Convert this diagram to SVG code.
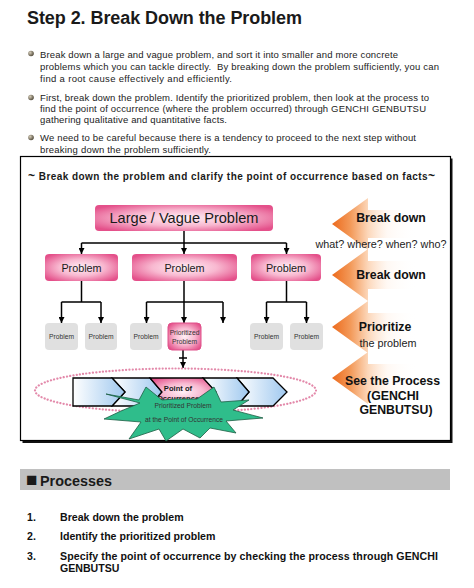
<svg xmlns="http://www.w3.org/2000/svg" xmlns:xlink="http://www.w3.org/1999/xlink" width="474" height="588" viewBox="0 0 474 588">
<style>
text{font-family:"Liberation Sans",Arial,sans-serif;fill:#1a1a1a}
.b{font-weight:bold}
.para{font-size:9.5px;fill:#222}
.pb{fill:url(#pinkG)}
.gb{fill:#e0e0e0}
.lbl{font-size:10.8px;text-anchor:middle}
.sm{font-size:6.7px;text-anchor:middle;fill:#333}
.cn{stroke:#000;stroke-width:1.5;fill:none}
.ca{stroke:#000;stroke-width:1.5;fill:none;marker-end:url(#ah)}
.rt{font-size:12.3px;font-weight:bold;text-anchor:middle;fill:#111}
.rs{font-size:10.8px;text-anchor:middle;fill:#222}
.chev{fill:url(#blueG);stroke:#000;stroke-width:1.3;stroke-linejoin:miter}
.li{font-size:10.6px;font-weight:bold;fill:#111}
</style>
<defs>
<radialGradient id="pinkG" cx="0.5" cy="0.5" r="0.62">
<stop offset="0" stop-color="#fff0f6"/>
<stop offset="0.5" stop-color="#f8b8d0"/>
<stop offset="1" stop-color="#e4508a"/>
</radialGradient>
<linearGradient id="blueG" x1="0" y1="0" x2="1" y2="0">
<stop offset="0" stop-color="#ffffff"/>
<stop offset="1" stop-color="#9fc8ef"/>
</linearGradient>
<linearGradient id="oG" x1="0" y1="0" x2="1" y2="0">
<stop offset="0" stop-color="#ec6a1c"/>
<stop offset="0.22" stop-color="#f39a5a"/>
<stop offset="0.42" stop-color="#fcd6b8"/>
<stop offset="0.65" stop-color="#fff4ec" stop-opacity="0.6"/>
<stop offset="1" stop-color="#ffffff" stop-opacity="0"/>
</linearGradient>
<radialGradient id="ballG" cx="0.35" cy="0.35" r="0.7">
<stop offset="0" stop-color="#d8d0bc"/>
<stop offset="1" stop-color="#4e4636"/>
</radialGradient>
<marker id="ah" viewBox="0 0 10 10" refX="10" refY="5" markerWidth="6" markerHeight="6" markerUnits="userSpaceOnUse" orient="auto">
<path d="M0,0 L10,5 L0,10 Z" fill="#000"/>
</marker>
<path id="oarrow" d="M0,0 L36,-26 L36,-14 L85,-14 L85,14 L36,14 L36,26 Z"/>
</defs>

<rect width="474" height="588" fill="#fff"/>

<g id="title">
<text x="27" y="24" class="b" style="font-size:18px" textLength="275">Step 2. Break Down the Problem</text>
</g>

<g id="bullets">
<circle cx="31" cy="53.5" r="2.8" fill="url(#ballG)"/>
<circle cx="31" cy="97.5" r="2.8" fill="url(#ballG)"/>
<circle cx="31" cy="137.5" r="2.8" fill="url(#ballG)"/>
<text class="para" x="40" y="57.5" textLength="358">Break down a large and vague problem, and sort it into smaller and more concrete</text>
<text class="para" x="40" y="69.8" textLength="399" xml:space="preserve">problems which you can tackle directly.  By breaking down the problem sufficiently, you can</text>
<text class="para" x="40" y="82.3" textLength="192">find a root cause effectively and efficiently.</text>
<text class="para" x="40" y="100.8" textLength="389">First, break down the problem. Identify the prioritized problem, then look at the process to</text>
<text class="para" x="40" y="112.2" textLength="386">find the point of occurrence (where the problem occurred) through GENCHI GENBUTSU</text>
<text class="para" x="40" y="123.3" textLength="187">gathering qualitative and quantitative facts.</text>
<text class="para" x="40" y="141" textLength="376">We need to be careful because there is a tendency to proceed to the next step without</text>
<text class="para" x="40" y="152.6" textLength="171">breaking down the problem sufficiently.</text>
</g>

<g id="frame">
<rect x="22.5" y="158.5" width="430" height="284.5" fill="#111"/>
<rect x="20.5" y="156.5" width="430" height="284" fill="#fff" stroke="#000" stroke-width="1.2"/>
<text x="28" y="179.5" class="b" style="font-size:10px" textLength="407"><tspan style="font-size:12px">~</tspan> Break down the problem and clarify the point of occurrence based on facts<tspan style="font-size:12px">~</tspan></text>
</g>

<g id="orange-arrows">
<use xlink:href="#oarrow" x="332" y="224" fill="url(#oG)"/>
<use xlink:href="#oarrow" x="332" y="275" fill="url(#oG)"/>
<use xlink:href="#oarrow" x="332" y="327" fill="url(#oG)"/>
<use xlink:href="#oarrow" x="332" y="378" fill="url(#oG)"/>
</g>

<g id="right-labels">
<text class="rt" x="391" y="222.3">Break down</text>
<text class="rs" x="381" y="248">what? where? when? who?</text>
<text class="rt" x="391" y="279.3">Break down</text>
<text class="rt" x="385" y="331.3">Prioritize</text>
<text class="rs" x="388" y="347">the problem</text>
<text class="rt" x="392.5" y="385.3">See the Process</text>
<text class="rt" x="393" y="399.8">(GENCHI</text>
<text class="rt" x="396" y="414.3">GENBUTSU)</text>
</g>

<g id="connectors">
<path class="ca" d="M184,231 V254"/>
<path class="cn" d="M81.5,243 H286.5"/>
<path class="ca" d="M81.5,243 V254"/>
<path class="ca" d="M286.5,243 V254"/>
<path class="cn" d="M81.5,281 V302 M61.5,302 H101"/>
<path class="ca" d="M61.5,302 V323"/>
<path class="ca" d="M101,302 V323"/>
<path class="ca" d="M184,281 V323"/>
<path class="cn" d="M146.5,302 H223"/>
<path class="ca" d="M146.5,302 V323"/>
<path class="ca" d="M223,302 V323"/>
<path class="cn" d="M286.5,281 V302 M266.5,302 H306.5"/>
<path class="ca" d="M266.5,302 V323"/>
<path class="ca" d="M306.5,302 V323"/>
<path class="ca" d="M183,350 V368"/>
<path class="cn" d="M179,358 H187" stroke-width="1"/>
</g>

<g id="node-large">
<rect class="pb" x="95" y="205" width="178" height="26" rx="4"/>
<text x="184" y="223.2" style="font-size:14.6px;text-anchor:middle" fill="#222">Large / Vague Problem</text>
</g>
<g id="node-p1">
<rect class="pb" x="45" y="254" width="73" height="27" rx="4"/>
<text class="lbl" x="81.5" y="271.5">Problem</text>
</g>
<g id="node-p2">
<rect class="pb" x="132" y="254" width="105" height="27" rx="4"/>
<text class="lbl" x="184.5" y="271.5">Problem</text>
</g>
<g id="node-p3">
<rect class="pb" x="251" y="254" width="70" height="27" rx="4"/>
<text class="lbl" x="286" y="271.5">Problem</text>
</g>

<g id="node-p11"><rect class="gb" x="45" y="323" width="33" height="27" rx="4"/><text class="sm" x="61.5" y="339">Problem</text></g>
<g id="node-p12"><rect class="gb" x="85" y="323" width="32" height="27" rx="4"/><text class="sm" x="101" y="339">Problem</text></g>
<g id="node-p21"><rect class="gb" x="130" y="323" width="32" height="27" rx="4"/><text class="sm" x="146" y="339">Problem</text></g>
<g id="node-prio">
<rect class="pb" x="168" y="323" width="33" height="27" rx="4" stroke="#e0508a" stroke-width="1"/>
<text class="sm" x="184.5" y="335.3">Prioritized</text>
<text class="sm" x="184.5" y="344.3">Problem</text>
</g>
<g id="node-p31"><rect class="gb" x="250" y="323" width="33" height="27" rx="4"/><text class="sm" x="266.5" y="339">Problem</text></g>
<g id="node-p32"><rect class="gb" x="290" y="323" width="33" height="27" rx="4"/><text class="sm" x="306.5" y="339">Problem</text></g>

<g id="process">
<ellipse cx="175.5" cy="390.5" rx="140.5" ry="22" fill="none" stroke="#e389aa" stroke-width="2.2" stroke-dasharray="0.1 3.2" stroke-linecap="round"/>
<path class="chev" d="M237,378 H273 L287,392 L273,406 H237 L249,392 Z"/>
<path class="chev" d="M203,378 H237 L249,392 L237,406 H203 L215,392 Z"/>
<path class="chev" d="M112,378 H150 L162,392 L150,406 H112 L125,392 Z"/>
<path class="chev" d="M73,378 H112 L125,392 L112,406 H73 Z"/>
<path class="chev" style="fill:url(#pinkG)" d="M150,378 H203 L216,392 L203,406 H150 L162,392 Z"/>
<text x="178" y="391" class="b" style="font-size:7.6px;text-anchor:middle">Point of</text>
<text x="178" y="400.5" class="b" style="font-size:7.6px;text-anchor:middle">Occurrence</text>
</g>

<g id="star">
<path d="M106,394 L140,403 L121,411 L104,419 L141,422 L129,439 L159,429 L166,441 L183,429 L200,438 L210,428 L236,433 L226,421 L263,418 L233,410 L249,400 L221,402 L214,387 L197,399 L175,399 L162,400 L146,387 L139,400 Z" fill="#2fbd8b" stroke="#1d5e44" stroke-width="0.8" stroke-linejoin="miter"/>
<text class="sm" x="183" y="408.3" textLength="57">Prioritized Problem</text>
<text class="sm" x="184" y="421.8" textLength="78">at the Point of Occurrence</text>
</g>

<g id="processes">
<rect x="20" y="469" width="430" height="21" fill="#c0c0c0"/>
<text x="26" y="485.5" class="b" style="font-size:14.4px"><tspan style="font-size:19px">■</tspan><tspan x="40">Processes</tspan></text>
<text class="li" x="27" y="521">1.</text>
<text class="li" x="60" y="521">Break down the problem</text>
<text class="li" x="27" y="540">2.</text>
<text class="li" x="60" y="540">Identify the prioritized problem</text>
<text class="li" x="27" y="560">3.</text>
<text class="li" x="60" y="560" textLength="378">Specify the point of occurrence by checking the process through GENCHI</text>
<text class="li" x="60" y="572.3">GENBUTSU</text>
</g>
</svg>
